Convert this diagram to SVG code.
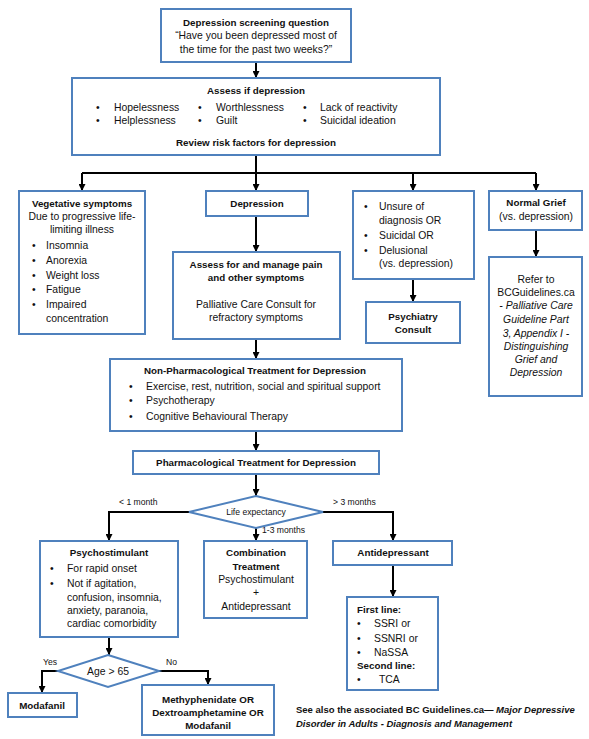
<svg xmlns="http://www.w3.org/2000/svg" width="589" height="739" viewBox="0 0 589 739">
<defs>
<marker id="ah" viewBox="0 0 10 10" refX="10" refY="5" markerWidth="7" markerHeight="7" markerUnits="userSpaceOnUse" orient="auto">
<path d="M0,0 L10,5 L0,10 z" fill="#000"/>
</marker>
<style>
text{font-family:"Liberation Sans",Arial,sans-serif;font-size:10.4px;fill:#111}
.b{font-weight:bold;font-size:9.8px}
.i{font-style:italic}
.s{font-size:8.6px}
.c{text-anchor:middle}
.f{font-weight:bold;font-size:9.5px}
.box{fill:#fff;stroke:#4F81BD;stroke-width:2}
.ln{fill:none;stroke:#000;stroke-width:2}
.ar{marker-end:url(#ah)}
</style>
</defs>
<rect width="589" height="739" fill="#fff"/>

<g id="connectors">
<path class="ln ar" d="M256,62 V78"/>
<path class="ln" d="M256,155 V173 M82,173 H536"/>
<path class="ln ar" d="M82,173 V191"/>
<path class="ln ar" d="M256,173 V191"/>
<path class="ln ar" d="M413,173 V191"/>
<path class="ln ar" d="M536,173 V191"/>
<path class="ln ar" d="M256,216 V252"/>
<path class="ln ar" d="M413,279 V302"/>
<path class="ln ar" d="M536,230 V257"/>
<path class="ln ar" d="M256,339 V359"/>
<path class="ln ar" d="M256,431 V451"/>
<path class="ln ar" d="M256,474 V496"/>
<path class="ln ar" d="M189,512 H109 V541"/>
<path class="ln ar" d="M256,528 V541"/>
<path class="ln ar" d="M323,512 H393 V541"/>
<path class="ln ar" d="M393,565 V597"/>
<path class="ln ar" d="M109,637 V655"/>
<path class="ln ar" d="M58,671 H42 V693"/>
<path class="ln ar" d="M159,671 H208 V685"/>
<text class="s" x="119" y="505">&lt; 1 month</text>
<text class="s" x="262" y="533">1-3 months</text>
<text class="s" x="333" y="505">&gt; 3 months</text>
<text class="s" x="43" y="665">Yes</text>
<text class="s" x="166" y="665">No</text>
</g>

<g id="screening">
<rect class="box" x="161" y="9" width="190" height="53"/>
<text class="b c" x="256" y="26">Depression screening question</text>
<text class="c" x="256" y="39">“Have you been depressed most of</text>
<text class="c" x="256" y="53">the time for the past two weeks?”</text>
</g>

<g id="assess">
<rect class="box" x="72" y="78" width="368" height="77"/>
<text class="b c" x="256" y="94">Assess if depression</text>
<text x="96" y="111">•</text><text x="114" y="111">Hopelessness</text>
<text x="96" y="124">•</text><text x="114" y="124">Helplessness</text>
<text x="198" y="111">•</text><text x="216" y="111">Worthlessness</text>
<text x="198" y="124">•</text><text x="216" y="124">Guilt</text>
<text x="303" y="111">•</text><text x="320" y="111">Lack of reactivity</text>
<text x="303" y="124">•</text><text x="320" y="124">Suicidal ideation</text>
<text class="b c" x="256" y="146">Review risk factors for depression</text>
</g>

<g id="vegetative">
<rect class="box" x="19" y="191" width="126" height="143"/>
<text class="b c" x="82" y="207">Vegetative symptoms</text>
<text class="c" x="82" y="220">Due to progressive life-</text>
<text class="c" x="82" y="233">limiting illness</text>
<text x="32" y="249">•</text><text x="46" y="249">Insomnia</text>
<text x="32" y="264">•</text><text x="46" y="264">Anorexia</text>
<text x="32" y="279">•</text><text x="46" y="279">Weight loss</text>
<text x="32" y="293">•</text><text x="46" y="293">Fatigue</text>
<text x="32" y="308">•</text><text x="46" y="308">Impaired</text>
<text x="46" y="322">concentration</text>
</g>

<g id="depression">
<rect class="box" x="206" y="191" width="102" height="25"/>
<text class="b c" x="257" y="207">Depression</text>
</g>

<g id="assess-pain">
<rect class="box" x="173" y="252" width="167" height="87"/>
<text class="b c" x="256" y="268">Assess for and manage pain</text>
<text class="b c" x="256" y="281">and other symptoms</text>
<text class="c" x="256" y="308">Palliative Care Consult for</text>
<text class="c" x="256" y="321">refractory symptoms</text>
</g>

<g id="unsure">
<rect class="box" x="353" y="191" width="121" height="88"/>
<text x="364" y="210">•</text><text x="379" y="210">Unsure of</text>
<text x="379" y="224">diagnosis OR</text>
<text x="364" y="239">•</text><text x="379" y="239">Suicidal OR</text>
<text x="364" y="254">•</text><text x="379" y="254">Delusional</text>
<text x="379" y="267">(vs. depression)</text>
</g>

<g id="psychiatry">
<rect class="box" x="366" y="302" width="94" height="41"/>
<text class="b c" x="413" y="320">Psychiatry</text>
<text class="b c" x="413" y="333">Consult</text>
</g>

<g id="normal-grief">
<rect class="box" x="489" y="191" width="93" height="39"/>
<text class="b c" x="536" y="206">Normal Grief</text>
<text class="c" x="536" y="220">(vs. depression)</text>
</g>

<g id="refer">
<rect class="box" x="489" y="257" width="93" height="139"/>
<text class="c" x="536" y="283">Refer to</text>
<text class="c" x="536" y="296">BCGuidelines.ca</text>
<text class="c i" x="536" y="309">- Palliative Care</text>
<text class="c i" x="536" y="323">Guideline Part</text>
<text class="c i" x="536" y="337">3, Appendix I -</text>
<text class="c i" x="536" y="350">Distinguishing</text>
<text class="c i" x="536" y="363">Grief and</text>
<text class="c i" x="536" y="376">Depression</text>
</g>

<g id="non-pharm">
<rect class="box" x="110" y="359" width="292" height="72"/>
<text class="b c" x="255" y="374">Non-Pharmacological Treatment for Depression</text>
<text x="129" y="390">•</text><text x="146" y="390">Exercise, rest, nutrition, social and spiritual support</text>
<text x="129" y="404">•</text><text x="146" y="404">Psychotherapy</text>
<text x="129" y="420">•</text><text x="146" y="420">Cognitive Behavioural Therapy</text>
</g>

<g id="pharm">
<rect class="box" x="133" y="451" width="246" height="23"/>
<text class="b c" x="256" y="466">Pharmacological Treatment for Depression</text>
</g>

<g id="life-expectancy">
<polygon class="box" points="256,496 323,512 256,528 189,512"/>
<text class="s c" x="256" y="515">Life expectancy</text>
</g>

<g id="psychostimulant">
<rect class="box" x="40" y="541" width="138" height="96"/>
<text class="b c" x="109" y="556">Psychostimulant</text>
<text x="50" y="572">•</text><text x="67" y="572">For rapid onset</text>
<text x="50" y="587">•</text><text x="67" y="587">Not if agitation,</text>
<text x="67" y="601">confusion, insomnia,</text>
<text x="67" y="614">anxiety, paranoia,</text>
<text x="67" y="627">cardiac comorbidity</text>
</g>

<g id="combination">
<rect class="box" x="204" y="541" width="103" height="77"/>
<text class="b c" x="256" y="556">Combination</text>
<text class="b c" x="256" y="570">Treatment</text>
<text class="c" x="256" y="583">Psychostimulant</text>
<text class="c" x="256" y="596">+</text>
<text class="c" x="256" y="610">Antidepressant</text>
</g>

<g id="antidepressant">
<rect class="box" x="333" y="541" width="119" height="24"/>
<text class="b c" x="393" y="556">Antidepressant</text>
</g>

<g id="lines">
<rect class="box" x="347" y="597" width="91" height="93"/>
<text class="b" x="357" y="613">First line:</text>
<text x="357" y="627">•</text><text x="374" y="627">SSRI or</text>
<text x="357" y="642">•</text><text x="374" y="642">SSNRI or</text>
<text x="357" y="656">•</text><text x="374" y="656">NaSSA</text>
<text class="b" x="357" y="669">Second line:</text>
<text x="357" y="683">•</text><text x="379" y="683">TCA</text>
</g>

<g id="age">
<polygon class="box" points="108,655 159,671 108,687 58,671"/>
<text class="c" x="108" y="675">Age &gt; 65</text>
</g>

<g id="modafanil">
<rect class="box" x="8" y="693" width="69" height="24"/>
<text class="b c" x="42" y="709">Modafanil</text>
</g>

<g id="methylphenidate">
<rect class="box" x="142" y="685" width="132" height="50"/>
<text class="b c" x="208" y="703">Methyphenidate OR</text>
<text class="b c" x="208" y="716">Dextroamphetamine OR</text>
<text class="b c" x="208" y="729">Modafanil</text>
</g>

<g id="footer">
<text class="f" x="296" y="713">See also the associated BC Guidelines.ca— <tspan class="i">Major Depressive</tspan></text>
<text class="f i" x="296" y="727">Disorder in Adults - Diagnosis and Management</text>
</g>
</svg>
